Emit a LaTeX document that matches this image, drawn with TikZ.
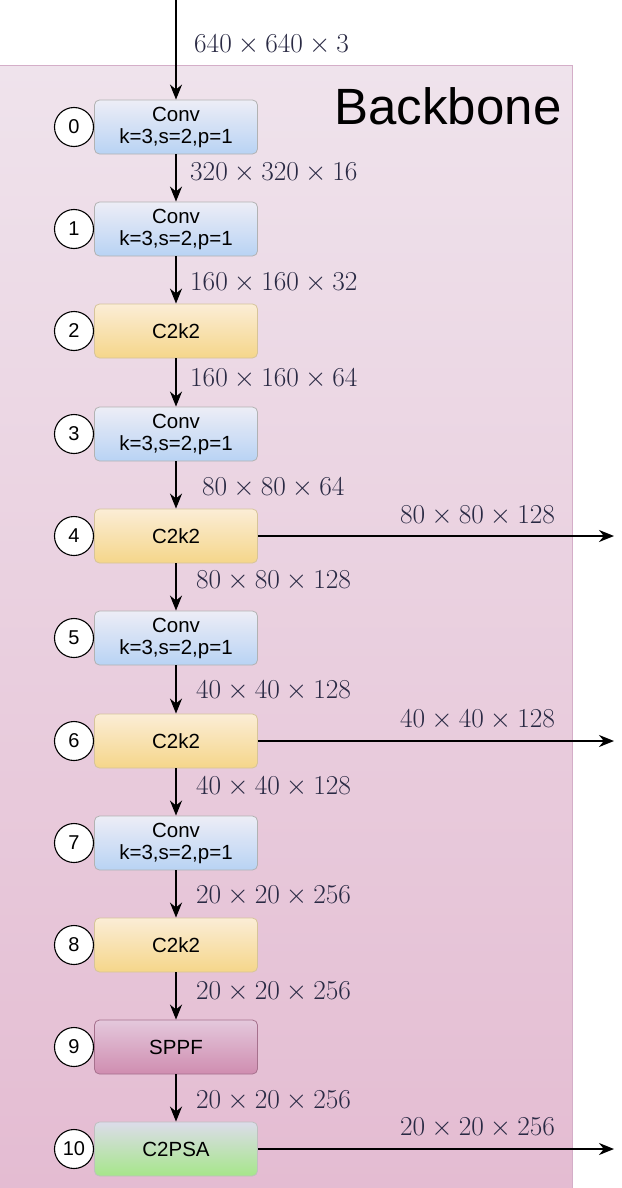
\documentclass[tikz,border=0pt]{standalone}
\usepackage{fontspec}
\usepackage{graphicx}
\setsansfont{Liberation Sans}
\usetikzlibrary{arrows.meta}
\definecolor{lbl}{HTML}{2A2A44}
\newcommand{\dimlab}[1]{\scalebox{1.1}{$#1$}}
\begin{document}
\begin{tikzpicture}[x=1pt,y=-1pt,
  blk/.style={draw, rounded corners=5pt, minimum width=163pt, minimum height=54pt, inner sep=0pt, align=center, font=\sffamily\fontsize{20.5}{24}\selectfont, line width=0.8pt},
  num/.style={draw, circle, fill=white, minimum size=39pt, inner sep=0pt, line width=1.1pt, font=\sffamily\fontsize{20}{22}\selectfont},
  lab/.style={anchor=west, text=lbl, font=\fontsize{24.88}{30}\selectfont, inner sep=0pt},
  arr/.style={-{Stealth[length=15pt,width=12pt]}, line width=2.2pt}]
\definecolor{cvT}{HTML}{EDEDF6}\definecolor{cvB}{HTML}{B8D3F4}
\definecolor{ckT}{HTML}{FBEDD6}\definecolor{ckB}{HTML}{F5D68A}
\definecolor{spT}{HTML}{E4C8DC}\definecolor{spB}{HTML}{CF8DB0}
\definecolor{psT}{HTML}{DCDCEA}\definecolor{psB}{HTML}{A6E68A}
\useasboundingbox (0,0) rectangle (621,1188);
\fill[white] (0,0) rectangle (621,1188);
\shade[top color={rgb,255:red,239;green,227;blue,236}, bottom color={rgb,255:red,228;green,188;blue,210}] (0,66) rectangle (572,1188);
\draw[draw={rgb,255:red,212;green,174;blue,200}, line width=1pt] (0,66) -- (572,66) -- (572,1188);
\node[font=\sffamily\fontsize{51}{56}\selectfont] (title) at (448,106) {Backbone};
\tikzset{
 cv/.style={blk, draw=black!30, top color=cvT, bottom color=cvB},
 ck/.style={blk, draw=ckB!80!black!70, top color=ckT, bottom color=ckB},
 sp/.style={blk, draw=spB!80!black, top color=spT, bottom color=spB},
 ps/.style={blk, draw=black!25, top color=psT, bottom color=psB}}
\def\cvtext{Conv\\[-2pt]k=3,s=2,p=1}
\node[cv] (b0) at (176,127) {\cvtext};
\node[cv] (b1) at (176,229) {\cvtext};
\node[ck] (b2) at (176,331) {C2k2};
\node[cv] (b3) at (176,434) {\cvtext};
\node[ck] (b4) at (176,536) {C2k2};
\node[cv] (b5) at (176,638) {\cvtext};
\node[ck] (b6) at (176,741) {C2k2};
\node[cv] (b7) at (176,843) {\cvtext};
\node[ck] (b8) at (176,945) {C2k2};
\node[sp] (b9) at (176,1047) {SPPF};
\node[ps] (b10) at (176,1149) {C2PSA};
\foreach \i/\y in {0/127,1/229,2/331,3/434,4/536,5/638,6/741,7/843,8/945,9/1047,10/1149}
  \node[num] (n\i) at (74,\y) {\i};
\coordinate (in) at (176,0);
\draw[arr] (in) -- (b0);
\foreach \a/\b in {0/1,1/2,2/3,3/4,4/5,5/6,6/7,7/8,8/9,9/10}
  \draw[arr] (b\a) -- (b\b);
\coordinate (o4) at (614,536);
\coordinate (o6) at (614,741);
\coordinate (o10) at (614,1149);
\draw[arr] (b4) -- (o4);
\draw[arr] (b6) -- (o6);
\draw[arr] (b10) -- (o10);
\node[lab] (l0) at (194,45) {\dimlab{640\times640\times3}};
\node[lab] (l1) at (190,173) {\dimlab{320\times320\times16}};
\node[lab] (l2) at (190,283) {\dimlab{160\times160\times32}};
\node[lab] (l3) at (190,379) {\dimlab{160\times160\times64}};
\node[lab] (l4) at (202,488) {\dimlab{80\times80\times64}};
\node[lab] (l5) at (196,581) {\dimlab{80\times80\times128}};
\node[lab] (l6) at (196,691) {\dimlab{40\times40\times128}};
\node[lab] (l7) at (196,787) {\dimlab{40\times40\times128}};
\node[lab] (l8) at (196,896) {\dimlab{20\times20\times256}};
\node[lab] (l9) at (196,992) {\dimlab{20\times20\times256}};
\node[lab] (l10) at (196,1101) {\dimlab{20\times20\times256}};
\node[lab] (s4) at (400,516) {\dimlab{80\times80\times128}};
\node[lab] (s6) at (400,720) {\dimlab{40\times40\times128}};
\node[lab] (s10) at (400,1128) {\dimlab{20\times20\times256}};
\end{tikzpicture}
\end{document}
